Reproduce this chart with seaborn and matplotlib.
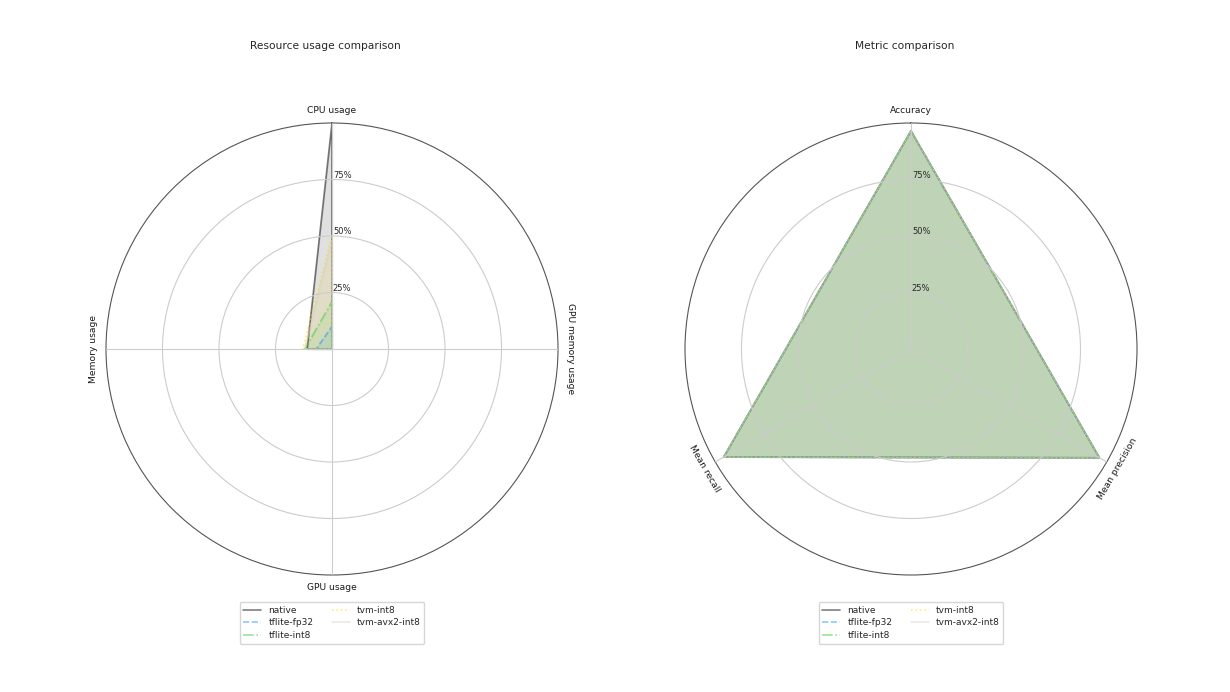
import numpy as np
import matplotlib
matplotlib.use("Agg")
import matplotlib.pyplot as plt
import seaborn as sns

sns.set_style("white")
plt.rcParams['font.family'] = ['DejaVu Sans']

series_names = ["native", "tflite-fp32", "tflite-int8", "tvm-int8", "tvm-avx2-int8"]
series_colors = ["black", "dodgerblue", "limegreen", "gold", "lightgray"]
series_styles = ["-", "--", "-.", ":", "-"]

resource_categories = ["CPU usage", "GPU memory usage", "GPU usage", "Memory usage"]
resource_native = [100, 0, 0, 11]
resource_tflite_fp32 = [10, 0, 0, 7]
resource_tflite_int8 = [21, 0, 0, 12]
resource_tvm_int8 = [50, 0, 0, 13]
resource_tvm_avx2_int8 = [48, 0, 0, 12]

metric_categories = ["Accuracy", "Mean precision", "Mean recall"]
metric_native = [96.5, 96.3, 95.7]
metric_tflite_fp32 = [96.5, 96.3, 95.7]
metric_tflite_int8 = [96.4, 96.2, 95.6]
metric_tvm_int8 = [96.5, 96.3, 95.7]
metric_tvm_avx2_int8 = [96.5, 96.3, 95.7]

r_ticks = [25, 50, 75]
r_tick_labels = ["25%", "50%", "75%"]

resource_data = [resource_native, resource_tflite_fp32, resource_tflite_int8,
                 resource_tvm_int8, resource_tvm_avx2_int8]
metric_data = [metric_native, metric_tflite_fp32, metric_tflite_int8,
               metric_tvm_int8, metric_tvm_avx2_int8]

fig = plt.figure(figsize=(12.3, 6.92), dpi=100)
ax1 = fig.add_axes([106 / 1230, 117 / 692, 452 / 1230, 452 / 692], projection="polar")
ax2 = fig.add_axes([685 / 1230, 117 / 692, 452 / 1230, 452 / 692], projection="polar")


def radar(ax, categories, data, title):
    n = len(categories)
    angles = np.linspace(0, 2 * np.pi, n, endpoint=False)
    closed_angles = np.concatenate([angles, angles[:1]])
    ax.set_theta_offset(np.pi / 2)
    ax.set_theta_direction(-1)
    for name, vals, col, ls in zip(series_names, data, series_colors, series_styles):
        closed_vals = list(vals) + [vals[0]]
        sns.lineplot(x=closed_angles, y=closed_vals, ax=ax, sort=False, estimator=None,
                     color=col, linestyle=ls, linewidth=1.2, alpha=0.5, label=name)
        ax.fill(closed_angles, closed_vals, color=col, alpha=0.12)
    ax.set_xlabel("")
    ax.set_ylabel("")
    ax.set_ylim(0, 100)
    ax.set_yticks(r_ticks)
    ax.set_yticklabels(r_tick_labels, fontsize=6)
    ax.set_rlabel_position(0.5)
    ax.set_xticks(angles)
    ax.set_xticklabels([])
    ax.set_axisbelow(False)
    for cat, ang in zip(categories, angles):
        deg = 90 - np.degrees(ang)
        rot = deg - 90
        rot = (rot + 180) % 360 - 180
        if rot > 90:
            rot -= 180
        elif rot < -90:
            rot += 180
        ax.text(ang, 105.5, cat, fontsize=6.6, rotation=rot, rotation_mode="anchor",
                ha="center", va="center", color="#1a1a1a")
    ax.grid(True, color="#cccccc", linewidth=0.8)
    ax.spines["polar"].set_color("#555555")
    ax.spines["polar"].set_linewidth(0.8)
    ax.set_title(title, fontsize=7.7, pad=53, x=0.485)
    ax.legend(loc="upper center", bbox_to_anchor=(0.5, -0.05), ncol=2,
              fontsize=6.5, frameon=True, columnspacing=2.0, labelspacing=0.4)
    return ax


radar(ax1, resource_categories, resource_data, "Resource usage comparison")
radar(ax2, metric_categories, metric_data, "Metric comparison")

fig.savefig("out.png", dpi=100)
